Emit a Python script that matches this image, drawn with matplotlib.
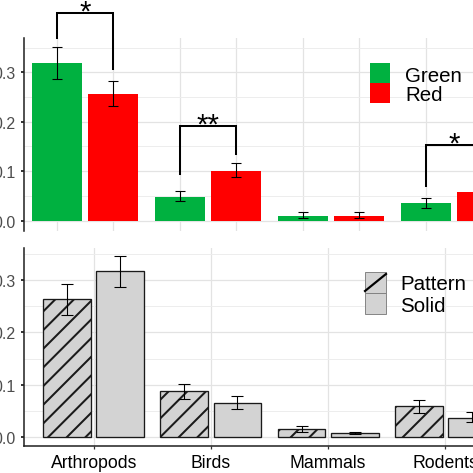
import matplotlib
matplotlib.use('Agg')
import matplotlib.pyplot as plt
from matplotlib.patches import Rectangle
from matplotlib.lines import Line2D
from matplotlib.ticker import FormatStrFormatter
import numpy as np

# data
groups = ['Arthropods', 'Birds', 'Mammals', 'Rodents']

green_mean = [0.318, 0.0485, 0.010, 0.0358]
green_lo = [0.286, 0.039, 0.0055, 0.025]
green_hi = [0.352, 0.0606, 0.017, 0.0459]
red_mean = [0.256, 0.101, 0.010, 0.059]
red_lo = [0.231, 0.0877, 0.0055, 0.048]
red_hi = [0.283, 0.116, 0.017, 0.070]

pattern_mean = [0.263, 0.0873, 0.016, 0.0587]
pattern_lo = [0.233, 0.072, 0.010, 0.0465]
pattern_hi = [0.293, 0.1007, 0.021, 0.0707]
solid_mean = [0.317, 0.0657, 0.0083, 0.037]
solid_lo = [0.287, 0.053, 0.006, 0.0287]
solid_hi = [0.346, 0.078, 0.0105, 0.048]

# significance brackets (top panel)
sig_group = [0, 1, 3]
sig_label = ['*', '**', '*']
sig_top = [0.42, 0.192, 0.154]
sig_left = [0.369, 0.094, 0.071]
sig_right = [0.307, 0.135, 0.09]

GREEN = '#00b140'
RED = '#ff0000'
GREY = '#d3d3d3'

W, H, DPI = 474, 474, 112
plt.rcParams['font.family'] = ['Liberation Sans', 'DejaVu Sans']
plt.rcParams['hatch.linewidth'] = 1.3

fig = plt.figure(figsize=(W / DPI, H / DPI), dpi=DPI)


def box(x0, y0, x1, y1):
    # pixel box (from top-left) -> figure fraction rect
    return [x0 / W, 1 - y1 / H, (x1 - x0) / W, (y1 - y0) / H]


def px(x, y):
    return x / W, 1 - y / H


ax1 = fig.add_axes(box(24, 39, 515, 232))
ax2 = fig.add_axes(box(24, 249, 515, 447))

x = np.arange(len(groups))


def style(ax, bottom_axis):
    ax.set_yticks([0, 0.1, 0.2, 0.3])
    ax.set_yticks([0.05, 0.15, 0.25, 0.35], minor=True)
    ax.yaxis.set_major_formatter(FormatStrFormatter('%.1f'))
    ax.grid(True, which='major', color='#e3e3e3', lw=0.8, zorder=0)
    ax.grid(True, which='minor', axis='y', color='#ececec', lw=0.6, zorder=0)
    ax.set_axisbelow(True)
    for s in ['top', 'right']:
        ax.spines[s].set_visible(False)
    ax.spines['bottom'].set_visible(bottom_axis)
    for s in ['left', 'bottom']:
        ax.spines[s].set_color('#222222')
        ax.spines[s].set_linewidth(1.0)
    ax.tick_params(axis='y', which='major', length=2, width=1.0, color='black',
                   labelsize=10.3, labelcolor='#4d4d4d', pad=3.2)
    ax.tick_params(axis='y', which='minor', length=0)
    ax.tick_params(axis='x', which='minor', length=0)


# top panel: colour
w1, off1 = 0.4065, 0.2276
ax1.set_xlim(-0.496, 3.496)
ax1.set_ylim(-0.0208, 0.3693)
style(ax1, False)
ax1.set_xticks(np.concatenate([x - off1, x + off1]))
ax1.tick_params(axis='x', length=0, labelbottom=False)

ax1.bar(x - off1, green_mean, w1, color=GREEN, zorder=2)
ax1.bar(x + off1, red_mean, w1, color=RED, zorder=2)
ax1.errorbar(x - off1, green_mean,
             yerr=[np.subtract(green_mean, green_lo), np.subtract(green_hi, green_mean)],
             fmt='none', ecolor='black', elinewidth=0.7, capsize=2.9, capthick=0.7, zorder=3)
ax1.errorbar(x + off1, red_mean,
             yerr=[np.subtract(red_mean, red_lo), np.subtract(red_hi, red_mean)],
             fmt='none', ecolor='black', elinewidth=0.7, capsize=2.9, capthick=0.7, zorder=3)

for g, lab, top, yl, yr in zip(sig_group, sig_label, sig_top, sig_left, sig_right):
    xl, xr = g - off1, g + off1
    ax1.plot([xl, xl, xr, xr], [yl, top, top, yr], color='black', lw=1.3,
             clip_on=False, solid_joinstyle='miter', zorder=4)
    ax1.annotate(lab, xy=(g, top), xytext=(0, -4.5), textcoords='offset points',
                 ha='center', va='baseline', fontsize=19, annotation_clip=False)

# bottom panel: pattern
w2, off2 = 0.41, 0.2265
ax2.set_xlim(-0.598, 3.598)
ax2.set_ylim(-0.0172, 0.3614)
style(ax2, True)
ax2.set_xticks(x)
ax2.set_xticklabels(groups)
ax2.tick_params(axis='x', length=2, width=0.8, color='#333333',
                labelsize=11.3, labelcolor='black', pad=3)

ax2.bar(x - off2, pattern_mean, w2, facecolor=GREY, edgecolor='#1a1a1a',
        lw=0.85, hatch='//', zorder=2)
ax2.bar(x + off2, solid_mean, w2, facecolor=GREY, edgecolor='#1a1a1a',
        lw=0.85, zorder=2)
ax2.errorbar(x - off2, pattern_mean,
             yerr=[np.subtract(pattern_mean, pattern_lo), np.subtract(pattern_hi, pattern_mean)],
             fmt='none', ecolor='black', elinewidth=0.7, capsize=3.8, capthick=0.7, zorder=3)
ax2.errorbar(x + off2, solid_mean,
             yerr=[np.subtract(solid_mean, solid_lo), np.subtract(solid_hi, solid_mean)],
             fmt='none', ecolor='black', elinewidth=0.7, capsize=3.8, capthick=0.7, zorder=3)

# legends, drawn by hand
fig.add_artist(Rectangle(px(370, 84), 20 / W, 20 / H, transform=fig.transFigure,
                         facecolor=GREEN, edgecolor='none'))
fig.add_artist(Rectangle(px(370, 104), 20 / W, 20 / H, transform=fig.transFigure,
                         facecolor=RED, edgecolor='none'))
fig.text(*px(405, 82), 'Green', fontsize=13.2, va='baseline', ha='left')
fig.text(*px(405, 101), 'Red', fontsize=13.2, va='baseline', ha='left')

fig.add_artist(Rectangle(px(365, 294), 21 / W, 21 / H, transform=fig.transFigure,
                         facecolor=GREY, edgecolor='#808080', lw=0.6))
fig.add_artist(Rectangle(px(365, 315), 21 / W, 21 / H, transform=fig.transFigure,
                         facecolor=GREY, edgecolor='#808080', lw=0.6))
x0, y0 = px(365, 292)
x1, y1 = px(386, 275)
fig.add_artist(Line2D([x0, x1], [y0, y1], transform=fig.transFigure,
                      color='black', lw=1.4))
fig.text(*px(400, 290.5), 'Pattern', fontsize=13.2, va='baseline', ha='left')
fig.text(*px(400, 311.5), 'Solid', fontsize=13.2, va='baseline', ha='left')

fig.savefig('out.png', dpi=DPI)
